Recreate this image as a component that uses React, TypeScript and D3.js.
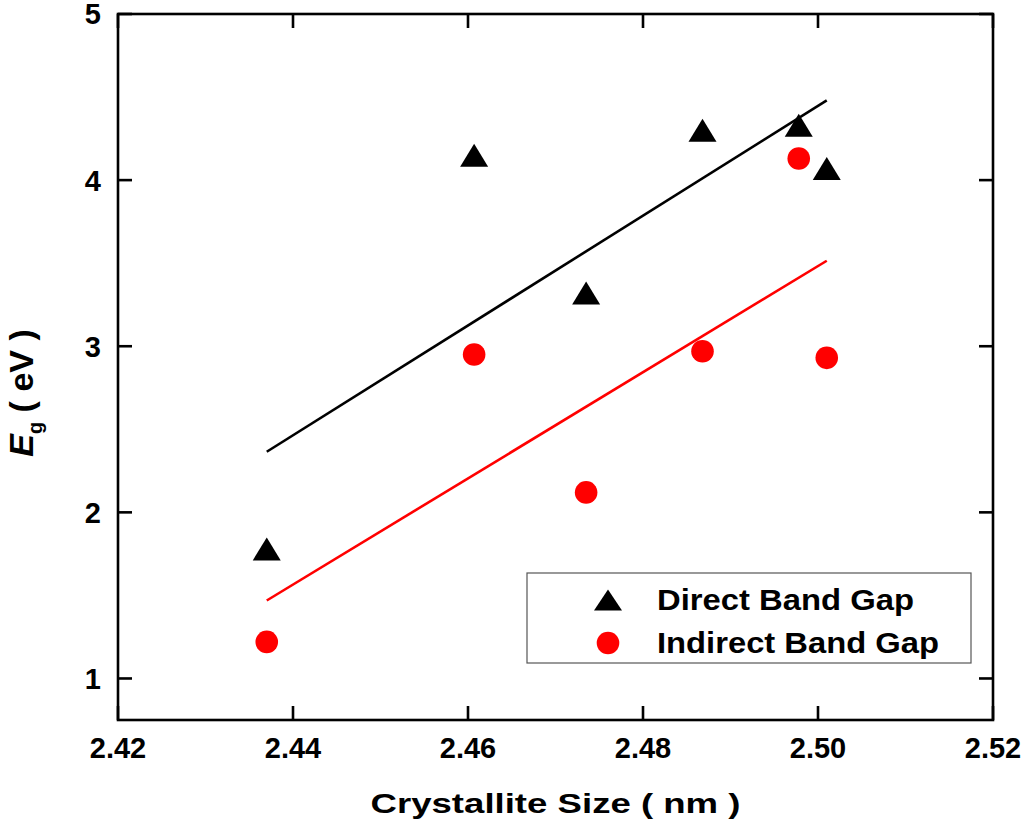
import * as d3 from "d3";

// ── Data ──────────────────────────────────────────────────────────────────────

const crystalliteSize = [2.437, 2.4607, 2.4735, 2.4868, 2.4978, 2.501];
const directGap = [1.78, 4.15, 3.32, 4.3, 4.33, 4.07];
const indirectGap = [1.22, 2.95, 2.12, 2.97, 4.13, 2.93];

const xTicks = [2.42, 2.44, 2.46, 2.48, 2.5, 2.52];
const yTicks = [1, 2, 3, 4, 5];

// ── Layout ────────────────────────────────────────────────────────────────────

const W = 1025;
const H = 832;
const M = { left: 118, right: 993, top: 14, bottom: 720 };
const FONT = "'Liberation Sans', Arial, Helvetica, sans-serif";
const RED = "#ff0000";
const TICK = 14;

// least squares fit, drawn over the data range
function linearFit(xs: number[], ys: number[]) {
  const mx = d3.mean(xs) as number;
  const my = d3.mean(ys) as number;
  const sxy = d3.sum(xs, (x, i) => (x - mx) * (ys[i] - my));
  const sxx = d3.sum(xs, (x) => (x - mx) ** 2);
  const slope = sxy / sxx;
  const [x0, x1] = d3.extent(xs) as [number, number];
  return [
    [x0, my + slope * (x0 - mx)],
    [x1, my + slope * (x1 - mx)],
  ] as [number, number][];
}

function trianglePath(cx: number, cy: number, w = 28, h = 23) {
  return `M${cx},${cy - h / 2}L${cx + w / 2},${cy + h / 2}L${cx - w / 2},${cy + h / 2}Z`;
}

export default function App() {
  const x = d3.scaleLinear().domain([2.42, 2.52]).range([M.left, M.right]);
  const y = d3.scaleLinear().domain([0.75, 5]).range([M.bottom, M.top]);

  const line = d3
    .line<[number, number]>()
    .x((d) => x(d[0]))
    .y((d) => y(d[1]));

  const directFit = linearFit(crystalliteSize, directGap);
  const indirectFit = linearFit(crystalliteSize, indirectGap);

  const axisStroke = 2.6;

  return (
    <svg
      width={W}
      height={H}
      style={{ position: "absolute", left: 0, top: 0, background: "#fff" }}
      fontFamily={FONT}
    >
      {/* fit lines */}
      <path d={line(directFit) ?? ""} stroke="#000" strokeWidth={2.6} fill="none" />
      <path d={line(indirectFit) ?? ""} stroke={RED} strokeWidth={2.6} fill="none" />

      {/* points */}
      {crystalliteSize.map((s, i) => (
        <path key={`d${i}`} d={trianglePath(x(s), y(directGap[i]))} fill="#000" />
      ))}
      {crystalliteSize.map((s, i) => (
        <circle key={`i${i}`} cx={x(s)} cy={y(indirectGap[i])} r={11.3} fill={RED} />
      ))}

      {/* frame */}
      <rect
        x={M.left}
        y={M.top}
        width={M.right - M.left}
        height={M.bottom - M.top}
        fill="none"
        stroke="#000"
        strokeWidth={axisStroke}
      />

      {/* x ticks (bottom + top, inward) */}
      {xTicks.map((t) => (
        <g key={`xt${t}`}>
          <line x1={x(t)} x2={x(t)} y1={M.bottom} y2={M.bottom - TICK} stroke="#000" strokeWidth={axisStroke} />
          <line x1={x(t)} x2={x(t)} y1={M.top} y2={M.top + TICK} stroke="#000" strokeWidth={axisStroke} />
          <text
            x={x(t)}
            y={758}
            textAnchor="middle"
            fontSize={29}
            fontWeight="bold"
            fill="#000"
          >
            {t.toFixed(2)}
          </text>
        </g>
      ))}

      {/* y ticks (left + right, inward) */}
      {yTicks.map((t) => (
        <g key={`yt${t}`}>
          <line x1={M.left} x2={M.left + TICK} y1={y(t)} y2={y(t)} stroke="#000" strokeWidth={axisStroke} />
          <line x1={M.right} x2={M.right - TICK} y1={y(t)} y2={y(t)} stroke="#000" strokeWidth={axisStroke} />
          <text
            x={101}
            y={y(t)}
            dy="0.36em"
            textAnchor="end"
            fontSize={29}
            fontWeight="bold"
            fill="#000"
          >
            {t}
          </text>
        </g>
      ))}

      {/* axis titles */}
      <text
        x={(M.left + M.right) / 2}
        y={813}
        textAnchor="middle"
        fontSize={28}
        fontWeight="bold"
        textLength={370}
        lengthAdjust="spacingAndGlyphs"
      >
        Crystallite Size ( nm )
      </text>
      <text
        transform={`translate(33, 393) rotate(-90)`}
        textAnchor="middle"
        fontSize={34}
        fontWeight="bold"
      >
        <tspan fontStyle="italic">E</tspan>
        <tspan fontSize={20} dy={9}>g</tspan>
        <tspan dy={-9}> ( eV )</tspan>
      </text>

      {/* legend */}
      <rect x={527} y={573} width={444} height={90} fill="#fff" stroke="#555" strokeWidth={1.2} />
      <path d={trianglePath(608, 600, 28, 21)} fill="#000" />
      <circle cx={608} cy={643} r={11.3} fill={RED} />
      <text
        x={657}
        y={610}
        fontSize={29}
        fontWeight="bold"
        textLength={257}
        lengthAdjust="spacingAndGlyphs"
      >
        Direct Band Gap
      </text>
      <text
        x={657}
        y={653}
        fontSize={29}
        fontWeight="bold"
        textLength={282}
        lengthAdjust="spacingAndGlyphs"
      >
        Indirect Band Gap
      </text>
    </svg>
  );
}
